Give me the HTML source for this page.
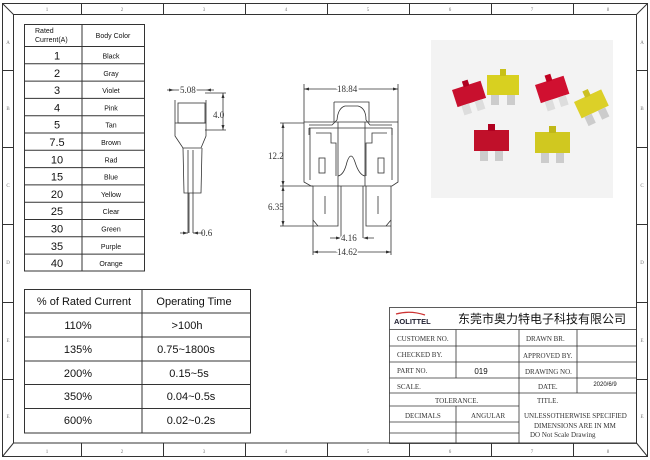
<!DOCTYPE html>
<html><head><meta charset="utf-8"><style>
html,body{margin:0;padding:0;background:#fff;}
svg{display:block;font-family:"Liberation Sans","Noto Sans CJK SC",sans-serif;}
.s{font-family:"Liberation Serif","Noto Serif CJK SC",serif;}
</style></head><body>
<svg width="650" height="460" viewBox="0 0 650 460" xmlns="http://www.w3.org/2000/svg">
<g fill="none" stroke="#333" stroke-width="1">
<rect x="2.5" y="3.5" width="645" height="453"/>
<rect x="13.5" y="14.5" width="623" height="428.5"/>
<line x1="2.5" y1="3.5" x2="13.5" y2="14.5"/><line x1="647.5" y1="3.5" x2="636.5" y2="14.5"/>
<line x1="2.5" y1="456.5" x2="13.5" y2="443"/><line x1="647.5" y1="456.5" x2="636.5" y2="443"/>
<path d="M81.5 3.5V14.5M163.5 3.5V14.5M245.5 3.5V14.5M327.5 3.5V14.5M409.5 3.5V14.5M491.5 3.5V14.5M573.5 3.5V14.5"/>
<path d="M81.5 443V456.5M163.5 443V456.5M245.5 443V456.5M327.5 443V456.5M409.5 443V456.5M491.5 443V456.5M573.5 443V456.5"/>
<path d="M2.5 70.5H13.5M2.5 147.5H13.5M2.5 224.5H13.5M2.5 302.5H13.5M2.5 379.5H13.5"/>
<path d="M636.5 70.5H647.5M636.5 147.5H647.5M636.5 224.5H647.5M636.5 302.5H647.5M636.5 379.5H647.5"/>
</g>
<g font-size="5" fill="#777" text-anchor="middle" class="s">
<text x="47" y="11">1</text><text x="122" y="11">2</text><text x="204" y="11">3</text><text x="286" y="11">4</text><text x="368" y="11">5</text><text x="450" y="11">6</text><text x="532" y="11">7</text><text x="608" y="11">8</text>
<text x="47" y="453">1</text><text x="122" y="453">2</text><text x="204" y="453">3</text><text x="286" y="453">4</text><text x="368" y="453">5</text><text x="450" y="453">6</text><text x="532" y="453">7</text><text x="608" y="453">8</text>
<text x="8" y="44">A</text><text x="8" y="110">B</text><text x="8" y="187">C</text><text x="8" y="264">D</text><text x="8" y="342">E</text><text x="8" y="418">E</text>
<text x="642" y="44">A</text><text x="642" y="110">B</text><text x="642" y="187">C</text><text x="642" y="264">D</text><text x="642" y="342">E</text><text x="642" y="418">E</text>
</g>
<g fill="none" stroke="#333">
<rect x="24.5" y="24.5" width="120" height="246.5"/>
<line x1="82" y1="24.5" x2="82" y2="271"/>
<path d="M24.5 46.5H144.5M24.5 63.8H144.5M24.5 81.1H144.5M24.5 98.4H144.5M24.5 115.7H144.5M24.5 133H144.5M24.5 150.3H144.5M24.5 167.6H144.5M24.5 184.9H144.5M24.5 202.2H144.5M24.5 219.5H144.5M24.5 236.8H144.5M24.5 254.1H144.5"/>
</g>
<g font-size="7" fill="#111">
<text x="35" y="33">Rated</text><text x="35" y="42">Current(A)</text>
<text x="113" y="38" text-anchor="middle">Body Color</text>
</g>
<g font-size="11" fill="#111" text-anchor="middle">
<text x="57" y="59.5">1</text><text x="57" y="76.8">2</text><text x="57" y="94.1">3</text><text x="57" y="111.4">4</text><text x="57" y="128.7">5</text><text x="57" y="146">7.5</text><text x="57" y="163.3">10</text><text x="57" y="180.6">15</text><text x="57" y="197.9">20</text><text x="57" y="215.2">25</text><text x="57" y="232.5">30</text><text x="57" y="249.8">35</text><text x="57" y="267.1">40</text>
</g>
<g font-size="7" fill="#111" text-anchor="middle">
<text x="111" y="58.5">Black</text><text x="111" y="75.8">Gray</text><text x="111" y="93.1">Violet</text><text x="111" y="110.4">Pink</text><text x="111" y="127.7">Tan</text><text x="111" y="145">Brown</text><text x="111" y="162.3">Rad</text><text x="111" y="179.6">Blue</text><text x="111" y="196.9">Yellow</text><text x="111" y="214.2">Clear</text><text x="111" y="231.5">Green</text><text x="111" y="248.8">Purple</text><text x="111" y="266.1">Orange</text>
</g>
<g fill="none" stroke="#333">
<rect x="24.5" y="289.5" width="226" height="143.5"/>
<line x1="142" y1="289.5" x2="142" y2="433"/>
<path d="M24.5 313H250.5M24.5 337H250.5M24.5 361H250.5M24.5 384.5H250.5M24.5 408.5H250.5"/>
</g>
<g font-size="11" fill="#111" text-anchor="middle">
<text x="84" y="305">% of Rated Current</text><text x="194" y="305">Operating Time</text>
<text x="78" y="329">110%</text><text x="187" y="329">&gt;100h</text>
<text x="78" y="353">135%</text><text x="186" y="353">0.75~1800s</text>
<text x="78" y="377">200%</text><text x="189" y="377">0.15~5s</text>
<text x="78" y="400">350%</text><text x="191" y="400">0.04~0.5s</text>
<text x="78" y="424">600%</text><text x="191" y="424">0.02~0.2s</text>
</g>
<g fill="none" stroke="#333" stroke-width="0.8">
<rect x="178" y="103" width="27" height="20"/>
<path d="M175 100V136L183 148H201L206 136V100M175 123H206"/>
<path d="M183 148L184 193H201L202 148M188 150V233M193 150V233M189 193V233"/>
<path d="M167 90H174M174 90H206M206 90H214M205 93H226M223 93V130M205 130H226M180 233H188M193 233H203"/>
</g>
<g fill="#333">
<path d="M174 90l-5-1.5v3zM206 90l5-1.5v3zM223 93l-1.5 5h3zM223 130l-1.5-5h3zM188 233l-5-1.5v3zM193 233l5-1.5v3z"/>
</g>
<g font-size="9" fill="#333" class="s"><text x="180" y="93" fill="#333" stroke="#fff" stroke-width="3" paint-order="stroke">5.08</text><text x="213" y="118">4.0</text><text x="201" y="236">0.6</text></g>
<g fill="none" stroke="#333" stroke-width="0.8">
<path d="M304 84V182L311 186H392L398 182V84"/>
<path d="M304 122H398M309 128H392M309 135V128M392 128V135"/>
<path d="M334 102H369V122M334 102V122M337 120Q338 108 345 106H358Q366 108 366 120"/>
<path d="M310 128V180M392 128V180M338 122V186M365 122V186M309 125H332L337 120M392 125H370L366 120"/>
<path d="M316 133H331V143H336V176M387 133H372V143H366V176"/>
<rect x="319" y="158" width="6" height="15"/><rect x="378" y="158" width="6" height="15"/>
<path d="M338 176Q344 175 347 162Q351 150 355 162Q359 175 365 176"/>
<path d="M313 186V226H338V186M366 186V226H391V186M341 186V238M363 186V238M313 226V255M391 226V255"/>
<path d="M325 196V214M378 196V214M313 220L318 226M391 220L386 226"/>
<path d="M280 123H304M280 186H313M280 226H313M283 123V226"/>
<path d="M304 89H398M330 238H338M366 238H374M313 252H391"/>
</g>
<g fill="#333">
<path d="M304 89l5-1.5v3zM398 89l-5-1.5v3zM283 123l-1.5 5h3zM283 186l-1.5-5h3zM283 186l-1.5 5h3zM283 226l-1.5-5h3zM341 238l-5-1.5v3zM363 238l5-1.5v3zM313 252l5-1.5v3zM391 252l-5-1.5v3z"/>
</g>
<g font-size="9" fill="#333" class="s">
<text x="337" y="92" stroke="#fff" stroke-width="3" paint-order="stroke">18.84</text>
<text x="268" y="159">12.2</text><text x="268" y="210">6.35</text>
<text x="341" y="241" stroke="#fff" stroke-width="3" paint-order="stroke">4.16</text>
<text x="337" y="255" stroke="#fff" stroke-width="3" paint-order="stroke">14.62</text>
</g>
<rect x="431" y="40" width="182" height="158" fill="#f3f3f3"/>
<g>
<g transform="translate(452,90) rotate(-18)"><rect x="0" y="0" width="30" height="18" fill="#c8102e"/><rect x="12" y="-5" width="6" height="6" fill="#b00020"/><rect x="4" y="18" width="8" height="10" fill="#ddd"/><rect x="18" y="18" width="8" height="10" fill="#ddd"/></g>
<g transform="translate(487,75)"><rect x="0" y="0" width="32" height="20" fill="#d8d020"/><rect x="13" y="-6" width="6" height="7" fill="#c8c018"/><rect x="4" y="20" width="8" height="10" fill="#ccc"/><rect x="20" y="20" width="8" height="10" fill="#ccc"/></g>
<g transform="translate(535,85) rotate(-18)"><rect x="0" y="0" width="30" height="19" fill="#d01030"/><rect x="12" y="-6" width="6" height="7" fill="#c00020"/><rect x="4" y="19" width="8" height="10" fill="#ddd"/><rect x="18" y="19" width="8" height="10" fill="#ddd"/></g>
<g transform="translate(574,102) rotate(-25)"><rect x="0" y="0" width="30" height="18" fill="#dcd028"/><rect x="12" y="-6" width="6" height="7" fill="#ccc020"/><rect x="3" y="18" width="8" height="10" fill="#ccc"/><rect x="18" y="18" width="8" height="10" fill="#ccc"/></g>
<g transform="translate(474,130)"><rect x="0" y="0" width="35" height="21" fill="#c0102a"/><rect x="14" y="-6" width="7" height="7" fill="#b00020"/><rect x="6" y="21" width="8" height="10" fill="#ccc"/><rect x="21" y="21" width="8" height="10" fill="#ccc"/></g>
<g transform="translate(535,132)"><rect x="0" y="0" width="35" height="21" fill="#d0c820"/><rect x="14" y="-6" width="7" height="7" fill="#c0b818"/><rect x="6" y="21" width="8" height="10" fill="#ccc"/><rect x="21" y="21" width="8" height="10" fill="#ccc"/></g>
</g>
<g fill="none" stroke="#333" stroke-width="0.8">
<rect x="389.5" y="307.5" width="247" height="136"/>
<path d="M389.5 329.5H636.5M389.5 346H636.5M389.5 362H636.5M389.5 378H636.5M389.5 393H636.5M389.5 406H519M389.5 422H519M389.5 433H519"/>
<path d="M456 329.5V378M519 329.5V443M577 329.5V393M456 406V443"/>
</g>
<g font-size="7" fill="#333" class="s">
<text x="397" y="341">CUSTOMER NO.</text><text x="526" y="341">DRAWN BR.</text>
<text x="397" y="357">CHECKED BY.</text><text x="523" y="358">APPROVED BY.</text>
<text x="397" y="373">PART NO.</text><text x="525" y="374">DRAWING NO.</text>
<text x="397" y="389">SCALE.</text><text x="538" y="389">DATE.</text>
<text x="435" y="403">TOLERANCE.</text><text x="537" y="403">TITLE.</text>
<text x="405" y="418">DECIMALS</text><text x="471" y="418">ANGULAR</text>
<text x="524" y="418">UNLESSOTHERWISE SPECIFIED</text>
<text x="534" y="428">DIMENSIONS ARE IN MM</text>
<text x="530" y="437">DO Not Scale Drawing</text>
</g>
<text x="481" y="374" font-size="8" fill="#111" text-anchor="middle">019</text>
<text x="605" y="386" font-size="6" fill="#111" text-anchor="middle">2020/6/9</text>
<text x="458" y="323" font-size="12" fill="#111">东莞市奥力特电子科技有限公司</text>
<text x="394" y="324" font-size="7.5" font-weight="bold" fill="#223">AOLITTEL</text>
<path d="M396 314Q410 310 425 315" stroke="#c33" stroke-width="1.2" fill="none"/>
</svg>
</body></html>
